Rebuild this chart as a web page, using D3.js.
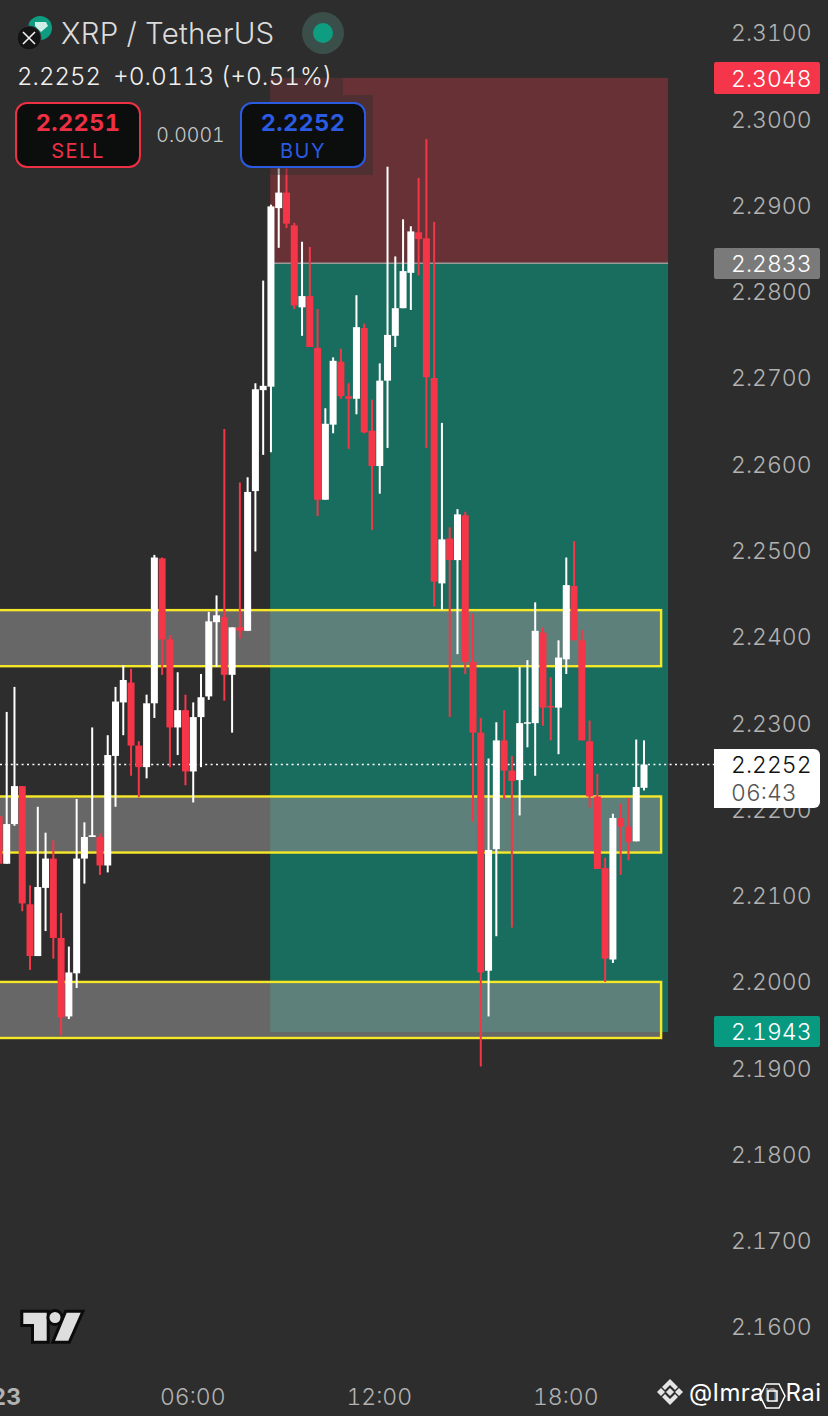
<!DOCTYPE html>
<html>
  <head>
    <meta charset="utf-8" />
    <script type="text/javascript" src="https://cdn.jsdelivr.net/npm/d3@7"></script>
    <style>
      html, body { margin: 0; padding: 0; background: #2d2d2d; overflow: hidden; }
      svg { display: block; font-family: Inter, "Noto Sans", sans-serif; font-variant-numeric: tabular-nums; }
    </style>
  </head>
  <body>
    <script type="text/javascript">
      // 15 minute candles, slot 0 is 00:00 on the 23rd, first one is just off the edge
      const firstSlot = -1;
      const opens = [2.2192,2.2137,2.2183,2.2227,2.2090,2.2030,2.2109,2.2143,2.2051,2.1960,2.2010,2.2143,2.2168,2.2168,2.2135,2.2262,2.2324,2.2347,2.2274,2.2249,2.2323,2.2491,2.2397,2.2295,2.2315,2.2244,2.2307,2.2331,2.2417,2.2423,2.2356,2.2411,2.2407,2.2569,2.2686,2.2690,2.2897,2.2915,2.2877,2.2782,2.2795,2.2735,2.2559,2.2646,2.2719,2.2679,2.2676,2.2758,2.2639,2.2598,2.2697,2.2749,2.2781,2.2822,2.2869,2.2862,2.2700,2.2462,2.2514,2.2489,2.2541,2.2371,2.2289,2.2013,2.2154,2.2280,2.2245,2.2234,2.2300,2.2300,2.2405,2.2320,2.2318,2.2374,2.2459,2.2396,2.2279,2.2215,2.2132,2.2026,2.2190,2.2180,2.2163,2.2225];
      const highs = [2.2197,2.2313,2.2342,2.2227,2.2112,2.2203,2.2173,2.2164,2.2080,2.2041,2.2212,2.2185,2.2295,2.2172,2.2286,2.2342,2.2367,2.2363,2.2279,2.2333,2.2495,2.2492,2.2402,2.2359,2.2333,2.2324,2.2357,2.2429,2.2448,2.2641,2.2411,2.2579,2.2585,2.2694,2.2813,2.2901,2.2943,2.2943,2.2880,2.2858,2.2852,2.2780,2.2665,2.2724,2.2734,2.2694,2.2796,2.2763,2.2675,2.2717,2.2945,2.2841,2.2884,2.2876,2.2932,2.2977,2.2881,2.2648,2.2527,2.2548,2.2545,2.2427,2.2306,2.2259,2.2301,2.2315,2.2262,2.2365,2.2373,2.2440,2.2411,2.2353,2.2396,2.2492,2.2511,2.2408,2.2303,2.2241,2.2144,2.2195,2.2207,2.2213,2.2281,2.2280];
      const lows = [2.2129,2.2137,2.2181,2.2082,2.2014,2.2030,2.2059,2.2027,2.1938,2.1957,2.1993,2.2114,2.2168,2.2124,2.2127,2.2203,2.2286,2.2239,2.2214,2.2236,2.2306,2.2356,2.2249,2.2263,2.2228,2.2208,2.2249,2.2327,2.2365,2.2326,2.2289,2.2398,2.2407,2.2499,2.2611,2.2614,2.2851,2.2874,2.2780,2.2749,2.2736,2.2540,2.2559,2.2636,2.2676,2.2618,2.2658,2.2636,2.2524,2.2566,2.2619,2.2736,2.2781,2.2779,2.2819,2.2619,2.2435,2.2431,2.2307,2.2380,2.2357,2.2186,2.1902,2.1960,2.2053,2.2212,2.2063,2.2193,2.2272,2.2239,2.2297,2.2280,2.2264,2.2357,2.2396,2.2280,2.2202,2.2131,2.2000,2.2022,2.2124,2.2141,2.2163,2.2222];
      const closes = [2.2137,2.2183,2.2227,2.2091,2.2030,2.2110,2.2143,2.2051,2.1959,2.2011,2.2143,2.2168,2.2170,2.2135,2.2263,2.2325,2.2350,2.2274,2.2249,2.2323,2.2492,2.2397,2.2295,2.2315,2.2244,2.2307,2.2330,2.2418,2.2425,2.2356,2.2411,2.2407,2.2568,2.2687,2.2691,2.2899,2.2915,2.2879,2.2784,2.2795,2.2736,2.2559,2.2647,2.2720,2.2679,2.2676,2.2759,2.2637,2.2598,2.2697,2.2750,2.2781,2.2824,2.2870,2.2861,2.2701,2.2464,2.2513,2.2489,2.2542,2.2371,2.2289,2.2011,2.2153,2.2280,2.2245,2.2233,2.2300,2.2301,2.2407,2.2318,2.2318,2.2376,2.2460,2.2396,2.2280,2.2215,2.2131,2.2027,2.2190,2.2180,2.2162,2.2226,2.2252];

      const priceTicks = [2.31,2.30,2.29,2.28,2.27,2.26,2.25,2.24,2.23,2.22,2.21,2.20,2.19,2.18,2.17,2.16];
      const timeSlots = [0, 24, 48, 72];
      const timeLabels = ["23", "06:00", "12:00", "18:00"];

      // yellow boxes
      const zoneTops = [2.2431, 2.2215, 2.2000];
      const zoneBottoms = [2.2366, 2.2150, 2.1935];

      // long position tool
      const stopPrice = 2.3048;
      const entryPrice = 2.2833;
      const targetPrice = 2.1943;
      const positionStartSlot = 33.9;
      const positionEndSlot = 85.1;
      const zoneEndSlot = 84.2;

      const lastPrice = 2.2252;
      const countdown = "06:43";

      const W = 828;
      const H = 1416;
      const bodyWidth = 7;
      const wickWidth = 2;

      const red = "#f53649";
      const white = "#ffffff";
      const axisGrey = "#b2b2b2";

      const x = d3.scaleLinear().domain([0, 82]).range([6.7, 644]);
      const y = d3.scaleLinear().domain([2.31, 2.16]).range([33, 1327]);

      const svg = d3.select("body").append("svg").attr("width", W).attr("height", H);
      svg.append("rect").attr("width", W).attr("height", H).attr("fill", "#2d2d2d");

      // position boxes
      svg.append("rect")
        .attr("x", x(positionStartSlot))
        .attr("y", y(stopPrice))
        .attr("width", x(positionEndSlot) - x(positionStartSlot))
        .attr("height", y(entryPrice) - y(stopPrice))
        .attr("fill", "#673136");
      svg.append("rect")
        .attr("x", x(positionStartSlot))
        .attr("y", y(entryPrice))
        .attr("width", x(positionEndSlot) - x(positionStartSlot))
        .attr("height", y(targetPrice) - y(entryPrice) + 1)
        .attr("fill", "#186d5e");
      svg.append("line")
        .attr("x1", x(positionStartSlot))
        .attr("x2", x(positionEndSlot))
        .attr("y1", y(entryPrice))
        .attr("y2", y(entryPrice))
        .attr("stroke", "#9a9a9a")
        .attr("stroke-width", 1.5);

      // yellow zones
      svg.selectAll(".zone")
        .data(zoneTops)
        .enter()
        .append("rect")
        .attr("class", "zone")
        .attr("x", -10)
        .attr("y", function (d) { return y(d); })
        .attr("width", x(zoneEndSlot) + 10)
        .attr("height", function (d, i) { return y(zoneBottoms[i]) - y(d); })
        .attr("fill", "rgba(141,141,141,0.6)")
        .attr("stroke", "#f5e829")
        .attr("stroke-width", 2.4);

      // last price dots
      svg.append("line")
        .attr("x1", 0)
        .attr("x2", 716)
        .attr("y1", y(lastPrice))
        .attr("y2", y(lastPrice))
        .attr("stroke", "#ffffff")
        .attr("stroke-width", 1.5)
        .attr("stroke-dasharray", "2 3.4");

      // candles
      const candles = svg.selectAll(".candle")
        .data(opens)
        .enter()
        .append("g")
        .attr("class", "candle");

      function candleColor(i) {
        return closes[i] >= opens[i] ? white : red;
      }

      candles.append("rect")
        .attr("x", function (d, i) { return x(i + firstSlot) - wickWidth / 2; })
        .attr("y", function (d, i) { return y(highs[i]); })
        .attr("width", wickWidth)
        .attr("height", function (d, i) { return y(lows[i]) - y(highs[i]); })
        .attr("fill", function (d, i) { return candleColor(i); });

      candles.append("rect")
        .attr("x", function (d, i) { return x(i + firstSlot) - bodyWidth / 2; })
        .attr("y", function (d, i) { return y(Math.max(opens[i], closes[i])); })
        .attr("width", bodyWidth)
        .attr("height", function (d, i) { return Math.max(1.5, Math.abs(y(opens[i]) - y(closes[i]))); })
        .attr("fill", function (d, i) { return candleColor(i); });

      // price axis
      const yAxis = d3.axisRight(y)
        .tickValues(priceTicks)
        .tickFormat(d3.format(".4f"))
        .tickSize(0)
        .tickPadding(0);
      const yAxisG = svg.append("g").attr("transform", "translate(731,0.5)").call(yAxis);
      yAxisG.select(".domain").remove();
      yAxisG.selectAll("text")
        .attr("fill", axisGrey)
        .style("font-family", "Inter")
        .style("font-size", "23px")
        .style("font-weight", 300);

      // time axis
      const xAxis = d3.axisBottom(x)
        .tickValues(timeSlots)
        .tickFormat(function (d, i) { return timeLabels[i]; })
        .tickSize(0)
        .tickPadding(0);
      const xAxisG = svg.append("g").attr("transform", "translate(-1,1389)").call(xAxis);
      xAxisG.select(".domain").remove();
      xAxisG.selectAll("text")
        .attr("fill", axisGrey)
        .style("font-family", "Inter")
        .style("font-size", "23px")
        .style("font-weight", function (d, i) { return i == 0 ? 700 : 300; });

      // price tags on the right
      function priceTag(price, fill, top, height) {
        svg.append("rect")
          .attr("x", 714).attr("y", top)
          .attr("width", 106).attr("height", height)
          .attr("rx", 2)
          .attr("fill", fill);
        svg.append("text")
          .attr("x", 731).attr("y", top + height / 2 + 8.5)
          .attr("fill", "#ffffff")
          .style("font-size", "23px")
          .style("font-weight", 300)
          .text(d3.format(".4f")(price));
      }
      priceTag(stopPrice, "#f5364a", 62, 32);
      priceTag(entryPrice, "#7a7a7a", 248, 31);
      priceTag(targetPrice, "#089981", 1016, 31);

      svg.append("path")
        .attr("d", "M714 749H814a6 6 0 0 1 6 6V802a6 6 0 0 1 -6 6H714Z")
        .attr("fill", "#ffffff");
      svg.append("text")
        .attr("x", 731).attr("y", 773)
        .attr("fill", "#111111")
        .style("font-size", "23px")
        .style("font-weight", 300)
        .text(d3.format(".4f")(lastPrice));
      svg.append("text")
        .attr("x", 731).attr("y", 801)
        .attr("fill", "#555555")
        .style("font-size", "23px")
        .style("font-weight", 300)
        .text(countdown);

      // dim patch behind the header, over the red box
      svg.append("path")
        .attr("d", "M270 78H343V95H373V175H270Z")
        .attr("fill", "rgba(45,45,45,0.4)");

      // header
      svg.append("circle").attr("cx", 40).attr("cy", 28).attr("r", 12).attr("fill", "#0f9d82");
      svg.append("path").attr("d", "M35 22H46L48 26L41 32L35 26Z").attr("fill", "#cfeee7");
      svg.append("circle").attr("cx", 29).attr("cy", 38).attr("r", 12).attr("fill", "#141414").attr("stroke", "#333").attr("stroke-width", 1);
      svg.append("path").attr("d", "M23 32L35 44M35 32L23 44").attr("stroke", "#f2f2f2").attr("stroke-width", 1.6);

      svg.append("text")
        .attr("x", 61).attr("y", 44)
        .attr("fill", "#dcdcdc")
        .style("font-size", "29.5px")
        .style("font-weight", 300)
        .style("letter-spacing", "0.2px")
        .text("XRP / TetherUS");

      svg.append("circle").attr("cx", 323).attr("cy", 33).attr("r", 21).attr("fill", "#3b4f4a");
      svg.append("circle").attr("cx", 323).attr("cy", 33).attr("r", 10).attr("fill", "#0f9d82");

      svg.append("text")
        .attr("x", 17).attr("y", 85)
        .attr("fill", "#f0f0f0")
        .style("font-size", "24px")
        .style("font-weight", 300)
        .text("2.2252");
      svg.append("text")
        .attr("x", 113).attr("y", 85)
        .attr("fill", "#f0f0f0")
        .style("font-size", "24.4px")
        .style("font-weight", 300)
        .text("+0.0113 (+0.51%)");

      function tradeButton(left, color, price, label) {
        svg.append("rect")
          .attr("x", left).attr("y", 103)
          .attr("width", 124).attr("height", 64)
          .attr("rx", 11)
          .attr("fill", "#0c0d0d")
          .attr("stroke", color)
          .attr("stroke-width", 2);
        svg.append("text")
          .attr("x", left + 62).attr("y", 131)
          .attr("text-anchor", "middle")
          .attr("fill", color)
          .style("font-size", "23.5px")
          .style("font-weight", 700)
          .style("letter-spacing", "0.4px")
          .text(price);
        svg.append("text")
          .attr("x", left + 62).attr("y", 158)
          .attr("text-anchor", "middle")
          .attr("fill", color)
          .style("font-size", "20px")
          .style("letter-spacing", "1.5px")
          .text(label);
      }
      tradeButton(16, "#ee3045", "2.2251", "SELL");
      tradeButton(241, "#2a5be0", "2.2252", "BUY");

      svg.append("text")
        .attr("x", 190.5).attr("y", 142)
        .attr("text-anchor", "middle")
        .attr("fill", "#c8c8c8")
        .style("font-size", "19.5px")
        .style("font-weight", 300)
        .text("0.0001");

      // tradingview mark
      const logo = svg.append("g")
        .attr("fill", "#dedede")
        .attr("stroke", "#0b0b0b")
        .attr("stroke-width", 6)
        .attr("stroke-linejoin", "miter")
        .style("paint-order", "stroke");
      logo.append("path").attr("d", "M23.3 1312.7H46.7V1340.7H34V1324H23.3Z");
      logo.append("circle").attr("cx", 55).attr("cy", 1317.5).attr("r", 5.5);
      logo.append("path").attr("d", "M66.7 1312.7H80.7L68.3 1340.7H55Z");

      // watermark
      svg.append("path")
        .attr("d", "M670 1379L678 1387L675 1390L670 1385L665 1390L662 1387Z M670 1405L678 1397L675 1394L670 1399L665 1394L662 1397Z M670 1388L674 1392L670 1396L666 1392Z M661 1388L665 1392L661 1396L657 1392Z M679 1388L683 1392L679 1396L675 1392Z")
        .attr("fill", "#e4e4e4");
      svg.append("text")
        .attr("x", 689).attr("y", 1401)
        .attr("fill", "#ffffff")
        .style("font-size", "24px")
        .style("letter-spacing", "0.4px")
        .text("@Imran Rai");
      svg.append("path")
        .attr("d", "M760 1396L766 1384H779L785 1396L779 1408H766Z")
        .attr("fill", "#2d2d2d")
        .attr("fill-opacity", 0.5)
        .attr("stroke", "#ffffff")
        .attr("stroke-width", 1.5);
      svg.append("rect")
        .attr("x", 768).attr("y", 1391).attr("width", 9).attr("height", 10)
        .attr("fill", "none")
        .attr("stroke", "#ffffff")
        .attr("stroke-width", 1.5);
    </script>
  </body>
</html>
